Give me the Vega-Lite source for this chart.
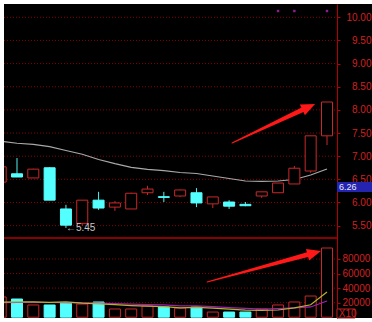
{
"$schema":"https://vega.github.io/schema/vega-lite/v6.json",
"width":368,"height":314,"autosize":"none",
"padding":{"left":4,"top":4,"right":0,"bottom":4},
"background":"#ffffff",
"config":{"view":{"fill":"#000000","stroke":null},"font":"Liberation Sans"},
"datasets":{
"candles":[
{"i":0,"o":6.44,"c":6.77,"h":6.77,"l":6.44,"d":"up"},
{"i":1,"o":6.62,"c":6.55,"h":6.96,"l":6.55,"d":"down"},
{"i":2,"o":6.53,"c":6.72,"h":6.73,"l":6.53,"d":"up"},
{"i":3,"o":6.75,"c":6.05,"h":6.76,"l":6.05,"d":"down"},
{"i":4,"o":5.86,"c":5.51,"h":5.95,"l":5.45,"d":"down"},
{"i":5,"o":5.55,"c":6.05,"h":6.05,"l":5.5,"d":"up"},
{"i":6,"o":6.05,"c":5.88,"h":6.23,"l":5.84,"d":"down"},
{"i":7,"o":5.9,"c":5.99,"h":6.03,"l":5.82,"d":"up"},
{"i":8,"o":5.86,"c":6.2,"h":6.21,"l":5.86,"d":"up"},
{"i":9,"o":6.21,"c":6.29,"h":6.36,"l":6.16,"d":"up"},
{"i":10,"o":6.125,"c":6.11,"h":6.23,"l":6.01,"d":"down"},
{"i":11,"o":6.14,"c":6.27,"h":6.28,"l":6.12,"d":"up"},
{"i":12,"o":6.21,"c":5.99,"h":6.31,"l":5.9,"d":"down"},
{"i":13,"o":5.97,"c":6.12,"h":6.12,"l":5.88,"d":"up"},
{"i":14,"o":6.01,"c":5.92,"h":6.05,"l":5.86,"d":"down"},
{"i":15,"o":5.96,"c":5.93,"h":6.01,"l":5.92,"d":"down"},
{"i":16,"o":6.14,"c":6.23,"h":6.23,"l":6.1,"d":"up"},
{"i":17,"o":6.21,"c":6.42,"h":6.42,"l":6.21,"d":"up"},
{"i":18,"o":6.4,"c":6.74,"h":6.79,"l":6.4,"d":"up"},
{"i":19,"o":6.68,"c":7.44,"h":7.44,"l":6.64,"d":"up"},
{"i":20,"o":7.44,"c":8.17,"h":8.17,"l":7.24,"d":"up"}
],
"ma":[
{"i":0,"m":7.322},{"i":1,"m":7.279},{"i":2,"m":7.257},{"i":3,"m":7.205},{"i":4,"m":7.123},
{"i":5,"m":7.041},{"i":6,"m":6.929},{"i":7,"m":6.838},{"i":8,"m":6.76},{"i":9,"m":6.717},
{"i":10,"m":6.687},{"i":11,"m":6.648},{"i":12,"m":6.626},{"i":13,"m":6.572},{"i":14,"m":6.518},
{"i":15,"m":6.464},{"i":16,"m":6.458},{"i":17,"m":6.464},{"i":18,"m":6.497},{"i":19,"m":6.594},{"i":20,"m":6.724}
],
"vol":[
{"i":0,"v":27800,"d":"up","m5":20500,"m10":20000},
{"i":1,"v":25000,"d":"down","m5":21000,"m10":20200},
{"i":2,"v":16800,"d":"up","m5":21000,"m10":20300},
{"i":3,"v":16800,"d":"down","m5":20500,"m10":20200},
{"i":4,"v":19500,"d":"down","m5":21000,"m10":20000},
{"i":5,"v":18100,"d":"up","m5":19400,"m10":19800},
{"i":6,"v":20900,"d":"down","m5":18400,"m10":19500},
{"i":7,"v":11300,"d":"up","m5":17200,"m10":18700},
{"i":8,"v":11300,"d":"up","m5":16000,"m10":18000},
{"i":9,"v":15400,"d":"up","m5":15200,"m10":17300},
{"i":10,"v":14000,"d":"down","m5":14500,"m10":16900},
{"i":11,"v":12600,"d":"up","m5":12900,"m10":15700},
{"i":12,"v":14000,"d":"down","m5":13500,"m10":15500},
{"i":13,"v":7100,"d":"up","m5":12600,"m10":14500},
{"i":14,"v":7100,"d":"down","m5":11000,"m10":13200},
{"i":15,"v":7100,"d":"down","m5":9600,"m10":12100},
{"i":16,"v":11300,"d":"up","m5":9300,"m10":11100},
{"i":17,"v":16800,"d":"up","m5":9900,"m10":11700},
{"i":18,"v":20900,"d":"up","m5":12700,"m10":12700},
{"i":19,"v":29100,"d":"up","m5":17100,"m10":14100},
{"i":20,"v":95100,"d":"up","m5":34600,"m10":22300}
],
"pgrid":[{"p":5.5},{"p":6},{"p":6.5},{"p":7},{"p":7.5},{"p":8},{"p":8.5},{"p":9},{"p":9.5},{"p":10}],
"vgrid":[{"v":20000},{"v":40000},{"v":60000},{"v":80000}],
"dots":[{"i":17,"p":10.136},{"i":18,"p":10.136},{"i":20,"p":10.136}],
"low":[{"i":4,"p":5.45,"t":"←5.45"}],
"arrowUp":[{"i":14.18,"p":7.285,"w":1},{"i":18.6,"p":8.02,"w":5}],
"headUp":[{"i":18.88,"p":8.063}],
"arrowDn":[{"i":12.65,"v":48400,"w":1},{"i":18.92,"v":86800,"w":5}],
"headDn":[{"i":19.22,"v":88500}],
"last":[{"i0":20.61,"i1":22.76,"lo":6.225,"hi":6.44,"ti":20.74,"tp":6.335,"t":"6.26"}],
"unit":[{"i0":20.61,"i1":21.72,"lo":-1100,"hi":11300,"ti":20.72,"tv":5000,"t":"X10"}]
},
"layer":[
 {"data":{"name":"pgrid"},"mark":{"type":"rule","color":"#8a0000","strokeDash":[1,2],"strokeWidth":1},
  "encoding":{"x":{"datum":0.2035,"type":"quantitative","scale":{"domain":[0.2035,22.758],"nice":false,"zero":false,"padding":0},"axis":null},"x2":{"datum":20.61},
   "y":{"field":"p","type":"quantitative","scale":{"domain":[3.505,10.287],"nice":false,"zero":false,"padding":0},
    "axis":{"orient":"right","offset":-35,"values":[5.5,6,6.5,7,7.5,8,8.5,9,9.5,10],"format":".2f","title":null,"grid":false,"domainColor":"#b40000","domainWidth":1,"tickColor":"#b40000","tickSize":3,"labelColor":"#d02020","labelFont":"Liberation Sans","labelFontSize":10,"labelAlign":"right","labelPadding":31,"labelBound":false,"labelOverlap":false,"labelFlush":false}}}},
 {"data":{"name":"vgrid"},"mark":{"type":"rule","color":"#8a0000","strokeDash":[1,2],"strokeWidth":1},
  "encoding":{"x":{"datum":0.2035,"type":"quantitative","axis":null},"x2":{"datum":20.61},
   "y":{"field":"v","type":"quantitative","scale":{"domain":[-1100,430500],"nice":false,"zero":false,"padding":0},
    "axis":{"orient":"right","offset":-35,"values":[20000,40000,60000,80000],"format":"d","title":null,"grid":false,"domain":false,"tickColor":"#b40000","tickSize":3,"labelColor":"#d02020","labelFont":"Liberation Sans","labelFontSize":10,"labelPadding":2,"labelBound":false,"labelOverlap":false,"labelFlush":false}}}},
 {"data":{"name":"pgrid"},"mark":{"type":"rule","color":"#8a0000","strokeWidth":1},
  "encoding":{"x":{"datum":0.2035,"type":"quantitative","axis":null},"x2":{"datum":20.61},"y":{"datum":5.233,"type":"quantitative","scale":{"domain":[3.505,10.287],"nice":false,"zero":false,"padding":0},"axis":null}}},
 {"data":{"name":"ma"},"mark":{"type":"line","color":"#a8a8a8","strokeWidth":1.2,"clip":true},
  "encoding":{"x":{"field":"i","type":"quantitative","axis":null},"y":{"field":"m","type":"quantitative","scale":{"domain":[3.505,10.287],"nice":false,"zero":false,"padding":0},"axis":null}}},
 {"data":{"name":"candles"},"mark":{"type":"rule","strokeWidth":1,"clip":true},
  "encoding":{"x":{"field":"i","type":"quantitative","axis":null},"y":{"field":"l","type":"quantitative","scale":{"domain":[3.505,10.287],"nice":false,"zero":false,"padding":0},"axis":null},"y2":{"field":"h"},
   "color":{"field":"d","type":"nominal","scale":{"domain":["up","down"],"range":["#c8282a","#50f0f0"]},"legend":null}}},
 {"data":{"name":"candles"},"mark":{"type":"bar","width":11,"strokeWidth":1,"clip":true},
  "encoding":{"x":{"field":"i","type":"quantitative","axis":null},"y":{"field":"o","type":"quantitative","scale":{"domain":[3.505,10.287],"nice":false,"zero":false,"padding":0},"axis":null},"y2":{"field":"c"},
   "fill":{"field":"d","type":"nominal","scale":{"domain":["up","down"],"range":["#000000","#54ffff"]},"legend":null},
   "stroke":{"field":"d","type":"nominal","scale":{"domain":["up","down"],"range":["#c8282a","#54ffff"]},"legend":null}}},
 {"data":{"name":"dots"},"mark":{"type":"point","shape":"square","filled":true,"size":6,"color":"#c030c0"},
  "encoding":{"x":{"field":"i","type":"quantitative","axis":null},"y":{"field":"p","type":"quantitative","scale":{"domain":[3.505,10.287],"nice":false,"zero":false,"padding":0},"axis":null}}},
 {"data":{"name":"low"},"mark":{"type":"text","align":"left","baseline":"middle","fontSize":10,"color":"#c8c8c8"},
  "encoding":{"x":{"field":"i","type":"quantitative","axis":null},"y":{"field":"p","type":"quantitative","scale":{"domain":[3.505,10.287],"nice":false,"zero":false,"padding":0},"axis":null},"text":{"field":"t"}}},
 {"data":{"name":"arrowUp"},"mark":{"type":"trail","color":"#ff1818"},
  "encoding":{"x":{"field":"i","type":"quantitative","axis":null},"y":{"field":"p","type":"quantitative","scale":{"domain":[3.505,10.287],"nice":false,"zero":false,"padding":0},"axis":null},"size":{"field":"w","type":"quantitative","scale":null}}},
 {"data":{"name":"headUp"},"mark":{"type":"point","shape":"M1,0L-1,-0.85L-1,0.85Z","filled":true,"size":196,"angle":-25.2,"color":"#ff1818","opacity":1,"strokeWidth":0},
  "encoding":{"x":{"field":"i","type":"quantitative","axis":null},"y":{"field":"p","type":"quantitative","scale":{"domain":[3.505,10.287],"nice":false,"zero":false,"padding":0},"axis":null}}},
 {"data":{"name":"last"},"mark":{"type":"rect","fill":"#2424b0"},
  "encoding":{"x":{"field":"i0","type":"quantitative","axis":null},"x2":{"field":"i1"},"y":{"field":"lo","type":"quantitative","scale":{"domain":[3.505,10.287],"nice":false,"zero":false,"padding":0},"axis":null},"y2":{"field":"hi"}}},
 {"data":{"name":"last"},"mark":{"type":"text","align":"left","baseline":"middle","fontSize":9,"color":"#e8e8ff"},
  "encoding":{"x":{"field":"ti","type":"quantitative","axis":null},"y":{"field":"tp","type":"quantitative","scale":{"domain":[3.505,10.287],"nice":false,"zero":false,"padding":0},"axis":null},"text":{"field":"t"}}},
 {"data":{"name":"vol"},"mark":{"type":"bar","width":11,"strokeWidth":1,"clip":true},
  "encoding":{"x":{"field":"i","type":"quantitative","axis":null},"y":{"field":"v","type":"quantitative","scale":{"domain":[-1100,430500],"nice":false,"zero":false,"padding":0},"axis":null},"y2":{"datum":0},
   "fill":{"field":"d","type":"nominal","scale":{"domain":["up","down"],"range":["#000000","#54ffff"]},"legend":null},
   "stroke":{"field":"d","type":"nominal","scale":{"domain":["up","down"],"range":["#c8282a","#54ffff"]},"legend":null}}},
 {"data":{"name":"vol"},"mark":{"type":"line","color":"#a020b0","strokeWidth":1.2,"clip":true},
  "encoding":{"x":{"field":"i","type":"quantitative","axis":null},"y":{"field":"m10","type":"quantitative","scale":{"domain":[-1100,430500],"nice":false,"zero":false,"padding":0},"axis":null}}},
 {"data":{"name":"vol"},"mark":{"type":"line","color":"#b4b430","strokeWidth":1.2,"clip":true},
  "encoding":{"x":{"field":"i","type":"quantitative","axis":null},"y":{"field":"m5","type":"quantitative","scale":{"domain":[-1100,430500],"nice":false,"zero":false,"padding":0},"axis":null}}},
 {"data":{"name":"arrowDn"},"mark":{"type":"trail","color":"#ff1818"},
  "encoding":{"x":{"field":"i","type":"quantitative","axis":null},"y":{"field":"v","type":"quantitative","scale":{"domain":[-1100,430500],"nice":false,"zero":false,"padding":0},"axis":null},"size":{"field":"w","type":"quantitative","scale":null}}},
 {"data":{"name":"headDn"},"mark":{"type":"point","shape":"M1,0L-1,-0.85L-1,0.85Z","filled":true,"size":196,"angle":-15.2,"color":"#ff1818","opacity":1,"strokeWidth":0},
  "encoding":{"x":{"field":"i","type":"quantitative","axis":null},"y":{"field":"v","type":"quantitative","scale":{"domain":[-1100,430500],"nice":false,"zero":false,"padding":0},"axis":null}}},
 {"data":{"name":"unit"},"mark":{"type":"rect","fill":"#000000","stroke":"#c02020","strokeWidth":1},
  "encoding":{"x":{"field":"i0","type":"quantitative","axis":null},"x2":{"field":"i1"},"y":{"field":"lo","type":"quantitative","scale":{"domain":[-1100,430500],"nice":false,"zero":false,"padding":0},"axis":null},"y2":{"field":"hi"}}},
 {"data":{"name":"unit"},"mark":{"type":"text","align":"left","baseline":"middle","fontSize":10,"color":"#d02020"},
  "encoding":{"x":{"field":"ti","type":"quantitative","axis":null},"y":{"field":"tv","type":"quantitative","scale":{"domain":[-1100,430500],"nice":false,"zero":false,"padding":0},"axis":null},"text":{"field":"t"}}}
],
"resolve":{"scale":{"y":"independent"},"axis":{"y":"independent"}}
}
